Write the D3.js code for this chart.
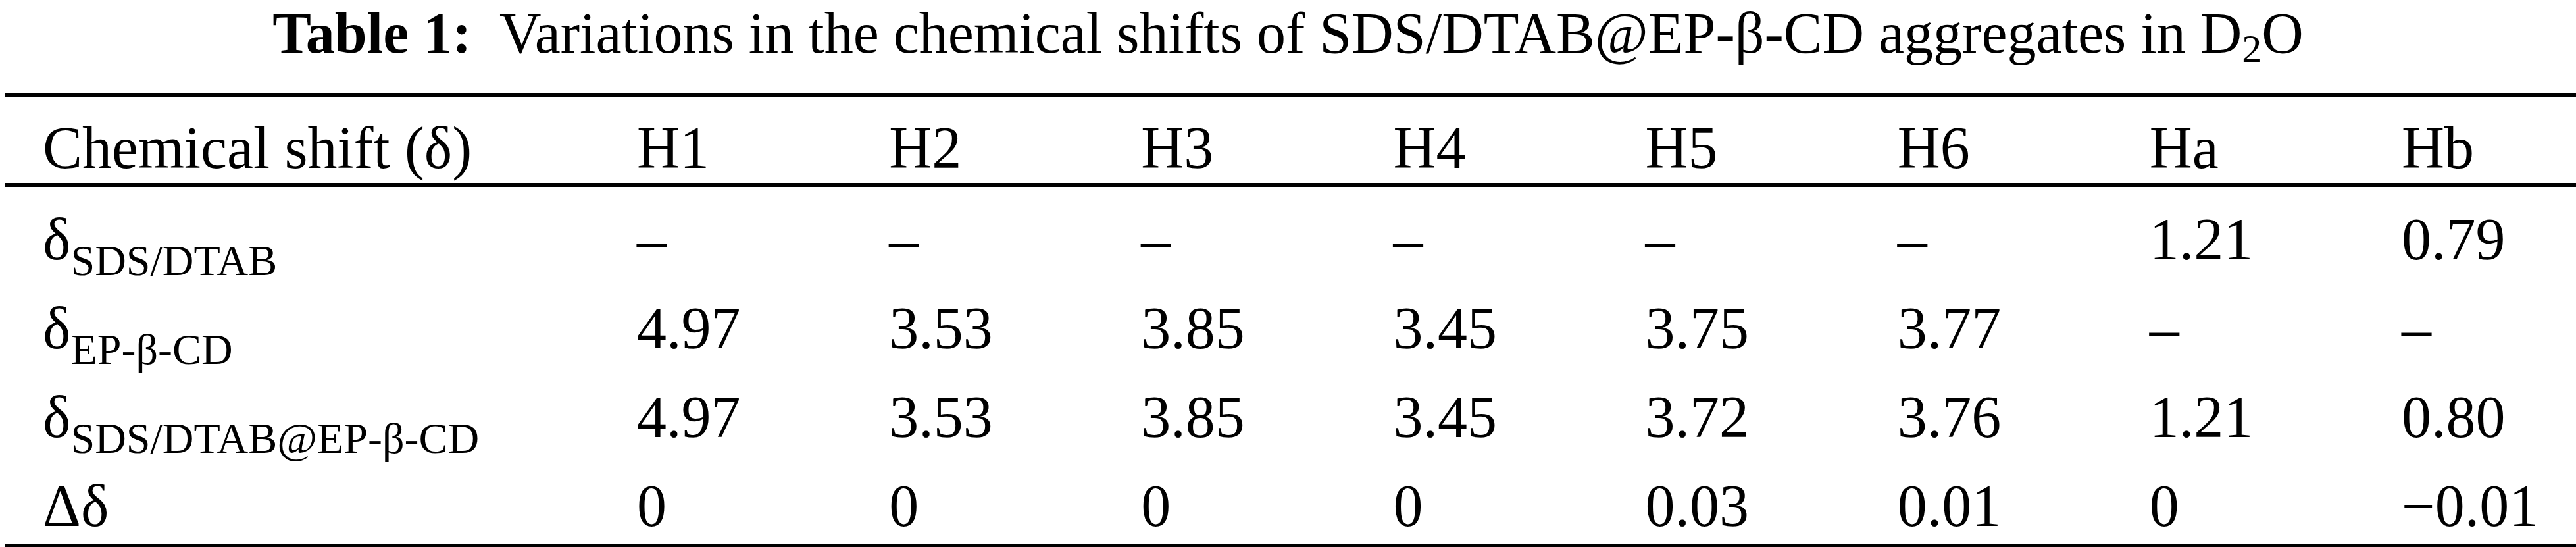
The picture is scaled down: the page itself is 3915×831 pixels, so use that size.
<!DOCTYPE html>
<html>
<head>
<meta charset="utf-8">
<script src="https://cdnjs.cloudflare.com/ajax/libs/d3/7.8.5/d3.min.js"></script>
<style>
  body { margin: 0; background: #fff; }
  text { font-family: "Liberation Serif", "Times New Roman", serif; fill: #000; }
</style>
</head>
<body>
<div id="container"></div>
<script>
// Datos de la tabla
const columnas = ["H1", "H2", "H3", "H4", "H5", "H6", "Ha", "Hb"];
const filas = ["SDS/DTAB", "EP-β-CD", "SDS/DTAB@EP-β-CD", "Δδ"];
const valoresSDS = ["–", "–", "–", "–", "–", "–", "1.21", "0.79"];
const valoresEP = ["4.97", "3.53", "3.85", "3.45", "3.75", "3.77", "–", "–"];
const valoresMezcla = ["4.97", "3.53", "3.85", "3.45", "3.72", "3.76", "1.21", "0.80"];
const valoresDelta = ["0", "0", "0", "0", "0.03", "0.01", "0", "−0.01"];
const valores = [valoresSDS, valoresEP, valoresMezcla, valoresDelta];

const WIDTH = 3915;
const HEIGHT = 831;
const FONT = 90;

const svg = d3.select("#container")
    .append("svg")
    .attr("width", WIDTH)
    .attr("height", HEIGHT);

const xScale = d3.scalePoint().domain(columnas).range([968, 3650]);
const yScale = d3.scalePoint().domain(filas).range([394, 799]);

// Titulo
const titulo = svg.append("text")
    .attr("x", WIDTH / 2)
    .attr("y", 80)
    .attr("text-anchor", "middle")
    .attr("font-size", 88);
titulo.append("tspan").attr("font-weight", "bold").text("Table 1:");
titulo.append("tspan").text("\u00a0 Variations in the chemical shifts of SDS/DTAB@EP-β-CD aggregates in D");
titulo.append("tspan").attr("font-size", 60).attr("dy", 14).text("2");
titulo.append("tspan").attr("dy", -14).text("O");

// Lineas
[144, 281, 829].forEach(y => {
    svg.append("line")
        .attr("x1", 8).attr("x2", WIDTH)
        .attr("y1", y).attr("y2", y)
        .attr("stroke", "#000")
        .attr("stroke-width", 6);
});

// Encabezado
svg.append("text")
    .attr("x", 65).attr("y", 255)
    .attr("font-size", FONT)
    .text("Chemical shift (δ)");

svg.selectAll(".encabezado")
    .data(columnas)
    .join("text")
    .attr("class", "encabezado")
    .attr("x", d => xScale(d))
    .attr("y", 255)
    .attr("font-size", FONT)
    .text(d => d);

// Etiquetas de fila
const etiquetas = svg.selectAll(".etiqueta")
    .data(filas)
    .join("text")
    .attr("class", "etiqueta")
    .attr("x", 65)
    .attr("y", d => yScale(d))
    .attr("font-size", FONT);

etiquetas.each(function(d) {
    const t = d3.select(this);
    if (d === "Δδ") {
        t.text(d);
    } else {
        t.append("tspan").text("δ");
        t.append("tspan").attr("font-size", 66).attr("dy", 24).text(d);
    }
});

// Celdas
const grupos = svg.selectAll(".fila")
    .data(valores)
    .join("g")
    .attr("class", "fila")
    .attr("transform", (d, i) => `translate(0, ${yScale(filas[i])})`);

grupos.selectAll("text")
    .data(d => d.map((v, j) => ({ v, col: columnas[j] })))
    .join("text")
    .attr("x", d => xScale(d.col))
    .attr("y", 0)
    .attr("font-size", FONT)
    .text(d => d.v);
</script>
</body>
</html>
